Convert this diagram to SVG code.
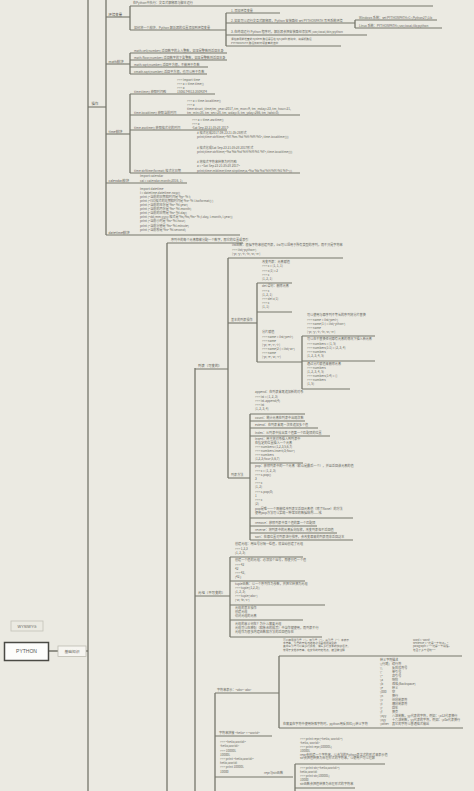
<svg xmlns="http://www.w3.org/2000/svg" width="474" height="791" viewBox="0 0 474 791">
<style>
text{font-family:"Noto Sans CJK SC","Noto Sans",sans-serif;font-size:3.1px;fill:#66665d}
.lb{font-size:3.4px;fill:#58584f}
.sm{font-size:2.7px}
.u{stroke:#76766b;stroke-width:1.1;fill:none}
.c{stroke:#76766b;stroke-width:1.3;fill:none}
.box{fill:#f6f5f0;stroke:#bdbcb1;stroke-width:0.8}
</style>
<rect width="474" height="791" fill="#ebeae2"/>
<g id="connectors" class="c">
<path d="M88 0V791M106 0V235M130 6V30M226 13V46M355 20V28M130 53V74M130 94V173M167 243V791M195 368V791M228 258V478M257 283V362M302 336V389M250 414V540M230 557V637M215 693V791M279 656V728M295 764V791M48.5 651H58M86 651H88"/>
</g>
<g id="wysiwyg"><rect x="11" y="621" width="32" height="10" fill="#ebeae2" stroke="#c3c2b8" stroke-width="0.8"/><text x="27" y="627.6" text-anchor="middle" style="font-size:3.8px;font-family:'Liberation Sans',sans-serif">WYSIWYG</text></g>
<g id="python"><rect x="4.5" y="642.5" width="44" height="18" fill="#fdfdfb" stroke="#4a4a44" stroke-width="1.5"/><text x="26.5" y="653.3" text-anchor="middle" style="font-size:5px;font-family:'Liberation Sans',sans-serif;fill:#555">PYTHON</text></g>
<g id="basics"><rect x="58" y="646" width="28" height="10.5" class="box"/><text x="72" y="652.6" text-anchor="middle" style="font-size:3.8px">基础知识</text></g>

<g id="run"><text x="133" y="4.4">在Python中执行：交互式解释器与脚本运行</text><path class="u" d="M130 6H433"/></g>
<g id="env"><text class="lb" x="108.5" y="15.6">环境变量</text><path class="u" d="M106 17H130"/></g>
<g id="path"><text x="134" y="28.5">如何将一个模块、Python 解析器的位置添加到环境变量</text><path class="u" d="M130 30H226"/></g>
<g id="s1"><text x="231" y="11.5">1. 添加环境变量</text><path class="u" d="M226 13H280"/></g>
<g id="s2"><text x="231" y="21.5">2. 如果可以运行交互式解释器，Python 安装路径 set PYTHONPATH 写到系统环境</text><path class="u" d="M226 23H355"/></g>
<g id="win"><text x="359" y="18.5">Windows 系统：set PYTHONPATH=C:\Python27\Lib</text><path class="u" d="M355 20H437"/></g>
<g id="linux"><text x="359" y="26.5">Linux 系统：PYTHONPATH=/usr/local/lib/python</text><path class="u" d="M355 28H442"/></g>
<g id="s3"><text x="231" y="33.2">3. 在终端运行 Python 程序时，解析器会把安装路径添加到 /usr/local/bin/python</text><path class="u" d="M226 35H367"/></g>
<g id="s4"><text class="sm" x="231" y="40.2">请在使用前检查的 system 路径是否在 sys.path 模块中，将解析路径</text><text class="sm" x="231" y="44">PYTHONPATH 路径加到环境变量的值中</text><path class="u" d="M226 46H341"/></g>

<g id="ops"><text class="lb" x="91.5" y="105.4">操作</text><path class="u" d="M88 107H106"/></g>

<g id="math"><text class="lb" x="108.5" y="62.6">math模块</text><path class="u" d="M106 64H130"/></g>
<g id="m1"><text x="134" y="51.6">math.ceil(number)  返回数字的上入整数，如果是整数则返回本身</text><path class="u" d="M130 53H227"/></g>
<g id="m2"><text x="134" y="58.6">math.floor(number)  返回数字的下舍整数，如果是整数则返回本身</text><path class="u" d="M130 60H227"/></g>
<g id="m3"><text x="134" y="65.6">math.sqrt(number)  返回平方根，不能用于负数</text><path class="u" d="M130 67H208"/></g>
<g id="m4"><text x="134" y="72.6">cmath.sqrt(number)  返回平方根，也可以用于负数</text><path class="u" d="M130 74H207"/></g>

<g id="time"><text class="lb" x="108.5" y="132.6">time模块</text><path class="u" d="M106 134H130"/></g>
<g id="t1"><text x="134" y="92.6">time.time() 获取时间戳</text><text x="177" y="80.5">&gt;&gt;&gt; import time</text><text x="177" y="84.5">&gt;&gt;&gt; a = time.time()</text><text x="177" y="88.5">&gt;&gt;&gt; a</text><text x="177" y="92.6">1506174813.3509374</text><path class="u" d="M130 94H215"/></g>
<g id="t2"><text x="134" y="113.6">time.localtime() 获取当前时间</text><text x="187" y="101.5">&gt;&gt;&gt; a = time.localtime()</text><text x="187" y="105.5">&gt;&gt;&gt; a</text><text x="187" y="109.5">time.struct_time(tm_year=2017, tm_mon=9, tm_mday=23, tm_hour=21,</text><text x="187" y="113.6">tm_min=35, tm_sec=28, tm_wday=5, tm_yday=266, tm_isdst=0)</text><path class="u" d="M130 115H300"/></g>
<g id="t3"><text x="134" y="128.6">time.asctime() 获取格式化的时间</text><text x="192" y="120.5">&gt;&gt;&gt; a = time.asctime()</text><text x="192" y="124.5">&gt;&gt;&gt; a</text><text x="192" y="128.6">'Sat Sep 23 21:35:28 2017'</text><path class="u" d="M130 130H227"/></g>
<g id="t4"><text x="134" y="171.6">time.strftime(format) 格式化日期</text><text x="197" y="134.2"># 格式化成2017-09-23 21:35:28形式</text><text x="197" y="138.2">print(time.strftime("%Y-%m-%d %H:%M:%S", time.localtime()))</text><text x="197" y="148.6"># 格式化成Sat Sep 23 21:35:28 2017形式</text><text x="197" y="152.6">print(time.strftime("%a %b %d %H:%M:%S %Y", time.localtime()))</text><text x="197" y="163.2"># 将格式字符串转换为时间戳</text><text x="197" y="167.2">a = "Sat Sep 23 21:35:28 2017"</text><text x="197" y="171.6">print(time.mktime(time.strptime(a,"%a %b %d %H:%M:%S %Y")))</text><path class="u" d="M130 173H300"/></g>

<g id="calendar"><text class="lb" x="108.5" y="181.8">calendar模块</text><text x="140" y="177.2">import calendar</text><text x="140" y="181.6">cal = calendar.month(2016, 1)</text><path class="u" d="M106 183H187"/></g>
<g id="datetime"><text class="lb" x="108.5" y="233.6">datetime模块</text>
<text x="140" y="189.6">import datetime</text>
<text x="140" y="193.7">i = datetime.datetime.now()</text>
<text x="140" y="197.8">print ("当前的日期和时间是 %s" % i)</text>
<text x="140" y="201.9">print ("ISO格式的日期和时间是 %s" % i.isoformat() )</text>
<text x="140" y="206">print ("当前的年份是 %s" %i.year)</text>
<text x="140" y="210.1">print ("当前的月份是 %s" %i.month)</text>
<text x="140" y="214.2">print ("当前的日期是  %s" %i.day)</text>
<text x="140" y="218.3">print ("dd/mm/yyyy 格式是 %s/%s/%s" % (i.day, i.month, i.year))</text>
<text x="140" y="222.4">print ("当前小时是 %s" %i.hour)</text>
<text x="140" y="226.5">print ("当前分钟是 %s" %i.minute)</text>
<text x="140" y="230.6">print ("当前秒是  %s" %i.second)</text>
<path class="u" d="M106 235H240"/></g>

<g id="seq"><text x="171" y="240.8">序列中的每个元素都被分配一个数字，即它的位置或索引</text><path class="u" d="M167 243H243"/></g>

<g id="list"><text class="lb" x="198" y="366.8">列表（可变的）</text><path class="u" d="M195 369H228"/></g>
<g id="listfn"><text x="232" y="246.3">list函数：根据字符串创建列表，list可以适用于所有类型的序列，而不只是字符串</text><text x="232" y="250.7">&gt;&gt;&gt; list('python')</text><text x="232" y="255">['p', 'y', 't', 'h', 'o', 'n']</text><path class="u" d="M228 258H343"/></g>
<g id="basicops"><text x="231" y="321">基本的列表操作</text><path class="u" d="M228 323H257"/></g>
<g id="assign"><text x="262" y="263.3">改变列表：元素赋值</text><text x="262" y="267.4">&gt;&gt;&gt; x = [1, 1, 1]</text><text x="262" y="271.5">&gt;&gt;&gt; x[1] = 2</text><text x="262" y="275.6">&gt;&gt;&gt; x</text><text x="262" y="279.7">[1, 2, 1]</text><path class="u" d="M257 283H292"/></g>
<g id="del"><text x="262" y="287.3">del 语句：删除元素</text><text x="262" y="291.5">&gt;&gt;&gt; x</text><text x="262" y="295.6">[1, 2, 1]</text><text x="262" y="299.7">&gt;&gt;&gt; del x[1]</text><text x="262" y="303.8">&gt;&gt;&gt; x</text><text x="262" y="307.9">[1, 1]</text><path class="u" d="M257 312H292"/></g>
<g id="slice"><text x="262" y="333.3">分片赋值</text><text x="262" y="337.5">&gt;&gt;&gt; name = list('perl')</text><text x="262" y="341.6">&gt;&gt;&gt; name</text><text x="262" y="345.7">['p', 'e', 'r', 'l']</text><text x="262" y="349.8">&gt;&gt;&gt; name[2:] = list('ar')</text><text x="262" y="353.9">&gt;&gt;&gt; name</text><text x="262" y="358">['p', 'e', 'a', 'r']</text><path class="u" d="M257 362H302"/></g>
<g id="slice1"><text x="307" y="316.3">可以使用与原序列不等长的序列将分片替换</text><text x="307" y="320.5">&gt;&gt;&gt; name = list('perl')</text><text x="307" y="324.6">&gt;&gt;&gt; name[1:] = list('ython')</text><text x="307" y="328.7">&gt;&gt;&gt; name</text><text x="307" y="332.8">['p', 'y', 't', 'h', 'o', 'n']</text><path class="u" d="M302 336H375"/></g>
<g id="slice2"><text x="307" y="340.3">可以在不替换任何原有元素的情况下插入新元素</text><text x="307" y="344.5">&gt;&gt;&gt; numbers = [1, 5]</text><text x="307" y="348.6">&gt;&gt;&gt; numbers[1:1] = [2, 3, 4]</text><text x="307" y="352.7">&gt;&gt;&gt; numbers</text><text x="307" y="356.8">[1, 2, 3, 4, 5]</text><path class="u" d="M302 361H375"/></g>
<g id="slice3"><text x="307" y="364.6">通过分片赋值来删除元素</text><text x="307" y="368.8">&gt;&gt;&gt; numbers</text><text x="307" y="372.9">[1, 2, 3, 4, 5]</text><text x="307" y="377">&gt;&gt;&gt; numbers[1:4] = []</text><text x="307" y="381.1">&gt;&gt;&gt; numbers</text><text x="307" y="385.2">[1, 5]</text><path class="u" d="M302 389H350"/></g>

<g id="methods"><text x="231" y="476.2">列表方法</text><path class="u" d="M228 478H250"/></g>
<g id="append"><text x="255" y="393.4">append：在列表末尾追加新的对象</text><text x="255" y="397.5">&gt;&gt;&gt; lst = [1, 2, 3]</text><text x="255" y="401.6">&gt;&gt;&gt; lst.append(4)</text><text x="255" y="405.7">&gt;&gt;&gt; lst</text><text x="255" y="409.8">[1, 2, 3, 4]</text><path class="u" d="M250 414H305"/></g>
<g id="count"><text x="255" y="419.2">count：统计元素在列表中出现次数</text><path class="u" d="M250 421H305"/></g>
<g id="extend"><text x="255" y="426.2">extend：在列表末尾一次性追加多个值</text><path class="u" d="M250 428H318"/></g>
<g id="index"><text x="255" y="434.2">index：从列表中找出某个值第一个匹配项的位置</text><path class="u" d="M250 436H330"/></g>
<g id="insert"><text x="255" y="440.2">insert：用于将对象插入到列表中</text><text x="255" y="444.2">在指定的位置插入一个元素</text><text x="255" y="448.2">&gt;&gt;&gt; numbers=[1,2,3,5,6,7]</text><text x="255" y="452.2">&gt;&gt;&gt; numbers.insert(3,'four')</text><text x="255" y="456.2">&gt;&gt;&gt; numbers</text><text x="255" y="460.2">[1,2,3,'four',5,6,7]</text><path class="u" d="M250 463H303"/></g>
<g id="pop"><text x="255" y="467.4">pop：移除列表中的一个元素（默认是最后一个），并且返回该元素的值</text>
<text x="255" y="471.6">&gt;&gt;&gt; x = [1, 2, 3]</text><text x="255" y="475.8">&gt;&gt;&gt; x.pop()</text><text x="255" y="480">3</text><text x="255" y="484.2">&gt;&gt;&gt; x</text><text x="255" y="488.4">[1, 2]</text><text x="255" y="492.6">&gt;&gt;&gt; x.pop(0)</text><text x="255" y="496.8">1</text><text x="255" y="501">&gt;&gt;&gt; x</text><text x="255" y="505.2">[2]</text><text x="255" y="509.6">pop是唯一一个既能修改列表又返回元素值（除了None）的方法</text><text x="255" y="513.8">使用pop方法可以实现一种常见的数据结构——栈</text><path class="u" d="M250 518H353"/></g>
<g id="remove"><text x="255" y="524.2">remove：移除列表中某个值的第一个匹配项</text><path class="u" d="M250 526H317"/></g>
<g id="reverse"><text x="255" y="531.2">reverse：将列表中的元素反向存放，改变列表但不返回值</text><path class="u" d="M250 533H337"/></g>
<g id="sort"><text x="255" y="538.2">sort：在原位置对列表进行排序，会改变原来的列表而非返回副本</text><path class="u" d="M250 540H353"/></g>

<g id="tuple"><text class="lb" x="198" y="594">元组（不可变的）</text><path class="u" d="M195 596H230"/></g>
<g id="tp1"><text x="235" y="545.4">创建元组：用逗号分隔一些值，就自动创建了元组</text><text x="235" y="549.5">&gt;&gt;&gt; 1,2,3</text><text x="235" y="553.6">(1, 2, 3)</text><path class="u" d="M230 557H303"/></g>
<g id="tp2"><text x="235" y="561.4">创建一个值的元组：必须加个逗号，即使只有一个值</text><text x="235" y="565.5">&gt;&gt;&gt; 42</text><text x="235" y="569.6">42</text><text x="235" y="573.7">&gt;&gt;&gt; 42,</text><text x="235" y="577.8">(42,)</text><path class="u" d="M230 581H305"/></g>
<g id="tp3"><text x="235" y="584.6">tuple函数：以一个序列作为参数，并把它转换为元组</text><text x="235" y="588.7">&gt;&gt;&gt; tuple([1,2,3])</text><text x="235" y="592.8">(1, 2, 3)</text><text x="235" y="596.9">&gt;&gt;&gt; tuple('abc')</text><text x="235" y="601">('a', 'b', 'c')</text><path class="u" d="M230 605H325"/></g>
<g id="tp4"><text x="235" y="608.6">元组的基本操作</text><text x="235" y="612.7">创建元组</text><text x="235" y="616.8">访问元组的元素</text><path class="u" d="M230 620H303"/></g>
<g id="tp5"><text x="235" y="624.6">元组的意义何在？为什么需要元组</text><text x="235" y="628.7">元组可以在映射（和集合的成员）中当作键使用，而列表不行</text><text x="235" y="632.8">元组作为很多内建函数和方法的返回值存在</text><path class="u" d="M230 637H322"/></g>

<g id="str"><text x="217" y="690.8">字符串表示："abc"  'abc'</text><path class="u" d="M215 693H279"/></g>
<g id="strq"><text class="sm" x="283" y="640.6">可以使用单引号（'）、双引号（"）、三引号（'''）来表示</text><text class="sm" x="283" y="644">字符串，引号的开始与结束必须是相同类型的</text><text class="sm" x="283" y="647.4">其中三引号可以由多行组成，编写多行文本的快捷语法，</text><text class="sm" x="283" y="650.8">常用于文档字符串，在文件的特定地点，被当做注释</text>
<text class="sm" x="413" y="640.6">word = 'word'</text><text class="sm" x="413" y="644">sentence = "这是一个句子。"</text><text class="sm" x="413" y="647.4">paragraph = """这是一个段落。</text><text class="sm" x="413" y="650.8">包含了多个语句"""</text><path class="u" d="M279 656H462"/></g>
<g id="escape">
<text x="380" y="661.2">转义字符</text><text x="392" y="661.2">描述</text>
<text x="380" y="665.2">\(行尾)</text><text x="392" y="665.2">续行符</text>
<text x="380" y="669.2">\\</text><text x="392" y="669.2">反斜杠符号</text>
<text x="380" y="673.2">\'</text><text x="392" y="673.2">单引号</text>
<text x="380" y="677.2">\"</text><text x="392" y="677.2">双引号</text>
<text x="380" y="681.2">\a</text><text x="392" y="681.2">响铃</text>
<text x="380" y="685.2">\b</text><text x="392" y="685.2">退格(Backspace)</text>
<text x="380" y="689.2">\e</text><text x="392" y="689.2">转义</text>
<text x="380" y="693.2">\000</text><text x="392" y="693.2">空</text>
<text x="380" y="697.2">\n</text><text x="392" y="697.2">换行</text>
<text x="380" y="701.2">\v</text><text x="392" y="701.2">纵向制表符</text>
<text x="380" y="705.2">\t</text><text x="392" y="705.2">横向制表符</text>
<text x="380" y="709.2">\r</text><text x="392" y="709.2">回车</text>
<text x="380" y="713.2">\f</text><text x="392" y="713.2">换页</text>
<text x="380" y="717.2">\oyy</text><text x="392" y="717.2">八进制数，yy代表的字符，例如：\o12代表换行</text>
<text x="380" y="721.2">\xyy</text><text x="392" y="721.2">十六进制数，yy代表的字符，例如：\x0a代表换行</text>
<text x="380" y="725.2">\other</text><text x="392" y="725.2">其它的字符以普通格式输出</text>
<text x="283" y="725.4">在需要在字符中使用特殊字符时，python用反斜杠(\)转义字符</text>
<path class="u" d="M279 728H463"/></g>
<g id="concat"><text x="219" y="734.4">字符串拼接  "hello" + "world"</text><path class="u" d="M215 736H272"/></g>
<g id="reprstr"><text x="220" y="743.2">&gt;&gt;&gt; "hello,world!"</text><text x="220" y="747.4">'hello,world!'</text><text x="220" y="751.6">&gt;&gt;&gt; 10000L</text><text x="220" y="755.8">10000L</text><text x="220" y="760">&gt;&gt;&gt; print "hello,world!"</text><text x="220" y="764.2">hello,world!</text><text x="220" y="768.4">&gt;&gt;&gt; print 10000L</text><text x="220" y="772.6">10000</text><text x="264" y="774.2">repr与str函数</text><path class="u" d="M215 777H293"/></g>
<g id="repr"><text x="300" y="740.4">&gt;&gt;&gt; print repr("hello, world!")</text><text x="300" y="744.2">'hello, world!'</text><text x="300" y="748">&gt;&gt;&gt; print repr(10000L)</text><text x="300" y="751.8">10000L</text><text x="300" y="755.6">repr会创建一个字符串，以合法的Python表达式的形式来表示值</text><text x="300" y="759.4">str会把值转换为合理形式的字符串，以便用户可以理解</text><path class="u" d="M295 764H385"/></g>
<g id="strfn"><text x="300" y="769.2">&gt;&gt;&gt; print str("hello,world!")</text><text x="300" y="773.2">hello,world!</text><text x="300" y="777.2">&gt;&gt;&gt; print str(10000L)</text><text x="300" y="781.2">10000</text><text x="300" y="785.2">str函数会把值转换为合理形式的字符串</text><path class="u" d="M295 788H355"/></g>
</svg>
